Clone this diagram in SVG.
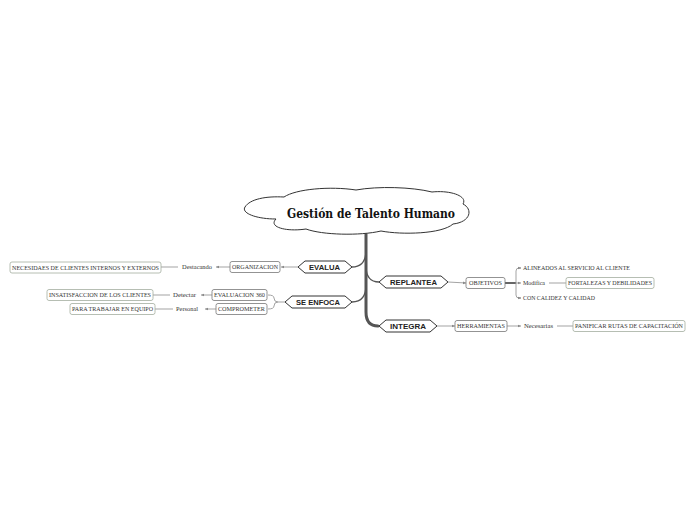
<svg xmlns="http://www.w3.org/2000/svg" width="696" height="520" viewBox="0 0 696 520">
<style>
.bg{fill:#fff}
.cloud{fill:#fff;stroke:#333;stroke-width:1}
.title{font-family:"DejaVu Serif","Liberation Serif",serif;font-weight:bold;font-size:13px;fill:#111}
.hex{fill:#fff;stroke:#333;stroke-width:1}
.hext{font-family:"Liberation Sans","DejaVu Sans",sans-serif;font-weight:bold;font-size:7px;fill:#222}
.b1{fill:#fff;stroke:#777;stroke-width:0.8}
.b2{fill:#fff;stroke:#a3ad9f;stroke-width:0.8}
.t{font-family:"Liberation Serif","DejaVu Serif",serif;font-size:5.4px;fill:#333}
.trunk{fill:none;stroke:#555;stroke-width:3;stroke-linecap:round}
.br{fill:none;stroke:#555;stroke-width:1.3}
.ln{fill:none;stroke:#999;stroke-width:0.9}
.lnk{fill:none;stroke:#666;stroke-width:2}
</style>
<defs>
<marker id="ar" viewBox="0 0 6 6" refX="5" refY="3" markerWidth="4" markerHeight="4" orient="auto">
<path d="M0,0.8 L5,3 L0,5.2 Z" fill="#888"/>
</marker>
</defs>
<rect class="bg" x="0" y="0" width="696" height="520"/>

<g id="connectors">
<path class="trunk" d="M366,233 L366,312 Q366,326 378,326"/>
<path class="br" d="M366,250 Q366,267 352,267"/>
<path class="br" d="M366,285 Q366,302 352,302"/>
<path class="br" d="M366,266 Q366,282 379,282"/>
<path class="ln" d="M298,267 L281,267" marker-end="url(#ar)"/>
<path class="ln" d="M230,267 L216,267" marker-end="url(#ar)"/>
<path class="ln" d="M178,267 L161,267"/>
<path class="ln" d="M285,302 L278,302 M278,302 Q274,302 274,298 Q274,295 268,295 M278,302 Q274,302 274,306 Q274,309 268,309"/>
<path class="ln" d="M212,295 L201,295" marker-end="url(#ar)"/>
<path class="ln" d="M170,295 L153,295"/>
<path class="ln" d="M216,309 L205,309" marker-end="url(#ar)"/>
<path class="ln" d="M173,309 L155,309"/>
<path class="ln" d="M448,282 L466,283" marker-end="url(#ar)"/>
<path class="lnk" d="M505,283 L516,283"/>
<path class="ln" d="M521,268 L519,268 Q516,268 516,271 L516,295 Q516,298 519,298 L521,298" />
<path class="ln" d="M519,268 L521,268" marker-end="url(#ar)"/>
<path class="ln" d="M516,283 L521,283" marker-end="url(#ar)"/>
<path class="ln" d="M519,298 L521,298" marker-end="url(#ar)"/>
<path class="ln" d="M549,283 L566,283"/>
<path class="ln" d="M437,326 L455,326" marker-end="url(#ar)"/>
<path class="ln" d="M507,326 L521,326" marker-end="url(#ar)"/>
<path class="ln" d="M557,326 L573,326"/>
</g>

<g id="root">
<path class="cloud" d="M245,207 C250,199 266,196 284,197 C296,189 330,186 356,190 C378,186 412,187 432,192 C450,190 468,196 463,204 C473,209 471,222 453,224 C442,234 402,235 381,231 C360,236 322,235 306,229 C286,232 268,227 276,219 C256,219 241,213 245,207 Z"/>
<text class="title" x="371" y="218" text-anchor="middle" textLength="168" lengthAdjust="spacingAndGlyphs">Gestión de Talento Humano</text>
</g>

<g id="evalua">
<path class="hex" d="M298,267 L305,261 L345,261 L352,267 L345,273 L305,273 Z"/>
<text class="hext" x="309" y="269.5" textLength="31" lengthAdjust="spacingAndGlyphs">EVALUA</text>
</g>
<g id="seenfoca">
<path class="hex" d="M285,302 L292,296 L345,296 L352,302 L345,308 L292,308 Z"/>
<text class="hext" x="296" y="304.5" textLength="44" lengthAdjust="spacingAndGlyphs">SE ENFOCA</text>
</g>
<g id="replantea">
<path class="hex" d="M379,282 L386,276 L441,276 L448,282 L441,288 L386,288 Z"/>
<text class="hext" x="390" y="284.5" textLength="47" lengthAdjust="spacingAndGlyphs">REPLANTEA</text>
</g>
<g id="integra">
<path class="hex" d="M379,326 L386,320 L430,320 L437,326 L430,332 L386,332 Z"/>
<text class="hext" x="390" y="328.5" textLength="36" lengthAdjust="spacingAndGlyphs">INTEGRA</text>
</g>

<g id="organizacion">
<rect class="b1" x="230" y="261.5" width="50" height="11" rx="2"/>
<text class="t" x="232" y="269" textLength="46" lengthAdjust="spacingAndGlyphs">ORGANIZACION</text>
</g>
<g id="destacando">
<text class="t" x="182" y="269" textLength="30" lengthAdjust="spacingAndGlyphs">Destacando</text>
</g>
<g id="necesidaes">
<rect class="b2" x="10" y="262" width="151" height="11" rx="2"/>
<text class="t" x="12" y="269.5" textLength="147" lengthAdjust="spacingAndGlyphs">NECESIDAES DE CLIENTES INTERNOS Y EXTERNOS</text>
</g>

<g id="evaluacion360">
<rect class="b1" x="212" y="289.5" width="55" height="11" rx="2"/>
<text class="t" x="214" y="297" textLength="51" lengthAdjust="spacingAndGlyphs">EVALUACION 360</text>
</g>
<g id="detectar">
<text class="t" x="173" y="297" textLength="23" lengthAdjust="spacingAndGlyphs">Detectar</text>
</g>
<g id="insatisfaccion">
<rect class="b2" x="47" y="289.5" width="106" height="11" rx="2"/>
<text class="t" x="49" y="297" textLength="102" lengthAdjust="spacingAndGlyphs">INSATISFACCION DE LOS CLIENTES</text>
</g>

<g id="comprometer">
<rect class="b1" x="216" y="303.5" width="51" height="11" rx="2"/>
<text class="t" x="218" y="311" textLength="47" lengthAdjust="spacingAndGlyphs">COMPROMETER</text>
</g>
<g id="personal">
<text class="t" x="176" y="311" textLength="22" lengthAdjust="spacingAndGlyphs">Personal</text>
</g>
<g id="paratrabajar">
<rect class="b2" x="70" y="303.5" width="85" height="11" rx="2"/>
<text class="t" x="72" y="311" textLength="81" lengthAdjust="spacingAndGlyphs">PARA TRABAJAR EN EQUIPO</text>
</g>

<g id="objetivos">
<rect class="b1" x="466" y="277.5" width="39" height="11" rx="2"/>
<text class="t" x="469" y="285" textLength="33" lengthAdjust="spacingAndGlyphs">OBJETIVOS</text>
</g>
<g id="alineados">
<text class="t" x="523" y="270" textLength="107" lengthAdjust="spacingAndGlyphs">ALINEADOS AL SERVICIO AL CLIENTE</text>
</g>
<g id="modifica">
<text class="t" x="523" y="285" textLength="22" lengthAdjust="spacingAndGlyphs">Modifica</text>
</g>
<g id="fortalezas">
<rect class="b2" x="566" y="277.5" width="88" height="11" rx="2"/>
<text class="t" x="568" y="285" textLength="84" lengthAdjust="spacingAndGlyphs">FORTALEZAS Y DEBILIDADES</text>
</g>
<g id="concalidez">
<text class="t" x="523" y="300" textLength="72" lengthAdjust="spacingAndGlyphs">CON CALIDEZ Y CALIDAD</text>
</g>

<g id="herramientas">
<rect class="b1" x="455" y="320.5" width="52" height="11" rx="2"/>
<text class="t" x="457" y="328" textLength="48" lengthAdjust="spacingAndGlyphs">HERRAMIENTAS</text>
</g>
<g id="necesarias">
<text class="t" x="524" y="328" textLength="29" lengthAdjust="spacingAndGlyphs">Necesarias</text>
</g>
<g id="panificar">
<rect class="b2" x="573" y="320.5" width="112" height="11" rx="2"/>
<text class="t" x="575" y="328" textLength="108" lengthAdjust="spacingAndGlyphs">PANIFICAR RUTAS DE CAPACITACIÓN</text>
</g>
</svg>
